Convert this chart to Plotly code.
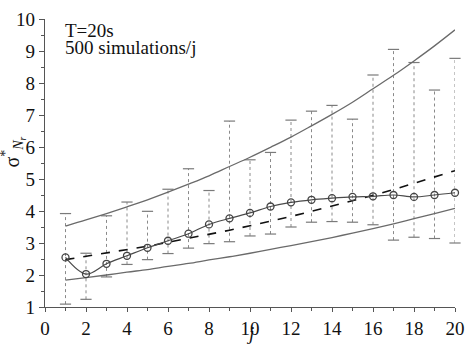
import plotly.graph_objects as go

# Number of simulated jumps j
j = list(range(1, 21))

# Mean of sigma* over 500 simulations per j
mean_sigma = [2.55, 2.03, 2.35, 2.60, 2.85, 3.07, 3.29, 3.58, 3.77, 3.94,
              4.14, 4.27, 4.35, 4.40, 4.44, 4.46, 4.50, 4.44, 4.50, 4.57]
# Spread of the simulations (max / min)
sigma_max = [3.92, 2.68, 3.85, 4.28, 3.99, 4.68, 5.32, 4.64, 6.81, 5.60,
             5.83, 6.84, 7.12, 7.30, 6.87, 8.25, 9.05, 8.64, 7.78, 8.77]
sigma_min = [1.09, 1.24, 1.94, 2.33, 2.48, 2.67, 2.84, 2.98, 3.04, 3.22,
             3.28, 3.50, 3.65, 3.67, 3.65, 3.57, 3.09, 3.18, 3.14, 3.00]
# Theoretical envelope and reference curve
upper_bound = [3.53, 3.72, 3.92, 4.13, 4.35, 4.59, 4.84, 5.10, 5.39, 5.68,
               5.99, 6.31, 6.66, 7.02, 7.40, 7.82, 8.24, 8.69, 9.16, 9.66]
lower_bound = [1.84, 1.92, 2.00, 2.09, 2.17, 2.27, 2.36, 2.47, 2.57, 2.68,
               2.80, 2.92, 3.04, 3.17, 3.31, 3.45, 3.60, 3.76, 3.92, 4.08]
reference = [2.48, 2.58, 2.68, 2.79, 2.90, 3.02, 3.14, 3.27, 3.40, 3.54,
             3.68, 3.83, 3.99, 4.15, 4.31, 4.49, 4.67, 4.86, 5.05, 5.26]

x_ticks = list(range(0, 21, 2))
y_ticks = list(range(1, 11))

FONT = "Liberation Serif, Times New Roman, serif"
AXIS_COLOR = "#555555"
TICK_FONT = dict(family=FONT, size=19, color="#111111")

fig = go.Figure()

# dotted vertical spread bars
bar_x, bar_y = [], []
for xi, lo, hi in zip(j, sigma_min, sigma_max):
    bar_x += [xi, xi, None]
    bar_y += [lo, hi, None]
fig.add_trace(go.Scatter(x=bar_x, y=bar_y, mode="lines",
                         line=dict(color="#8a8a8a", width=1, dash="dot"),
                         hoverinfo="skip", cliponaxis=False))
# caps at both ends
fig.add_trace(go.Scatter(x=j + j, y=sigma_max + sigma_min, mode="markers",
                         marker=dict(symbol="line-ew-open", size=8,
                                     color="#7a7a7a",
                                     line=dict(color="#7a7a7a", width=1.2)),
                         cliponaxis=False))

# envelope curves
fig.add_trace(go.Scatter(x=j, y=upper_bound, mode="lines",
                         line=dict(color="#6a6a6a", width=1.3, shape="spline")))
fig.add_trace(go.Scatter(x=j, y=lower_bound, mode="lines",
                         line=dict(color="#6a6a6a", width=1.3, shape="spline")))
# dashed reference curve
fig.add_trace(go.Scatter(x=j, y=reference, mode="lines",
                         line=dict(color="#111111", width=1.6, dash="dash")))
# simulated mean
fig.add_trace(go.Scatter(x=j, y=mean_sigma, mode="lines+markers",
                         line=dict(color="#4a4a4a", width=1.2, shape="spline"),
                         marker=dict(symbol="circle-open", size=7,
                                     color="#444444",
                                     line=dict(color="#444444", width=1.3)),
                         cliponaxis=False))

fig.update_layout(
    width=474, height=348,
    margin=dict(l=45, r=9, t=11, b=41),
    plot_bgcolor="white", paper_bgcolor="white",
    showlegend=False,
    font=dict(family=FONT, size=19, color="#111111"),
    xaxis=dict(range=[0, 20], tickvals=x_ticks, showgrid=False, zeroline=False,
               showline=True, linecolor=AXIS_COLOR, linewidth=1.2,
               ticks="outside", ticklen=4, tickcolor=AXIS_COLOR,
               tickfont=TICK_FONT, ticklabeloverflow="allow",
               minor=dict(dtick=1, tick0=0, ticks="outside", ticklen=3,
                          tickcolor=AXIS_COLOR)),
    yaxis=dict(range=[1, 10], tickvals=y_ticks, showgrid=False, zeroline=False,
               showline=True, linecolor=AXIS_COLOR, linewidth=1.2,
               ticks="outside", ticklen=5, tickcolor=AXIS_COLOR,
               tickfont=TICK_FONT, ticklabeloverflow="allow",
               minor=dict(dtick=0.5, tick0=0, ticks="outside", ticklen=3,
                          tickcolor=AXIS_COLOR)),
    annotations=[
        dict(text="T=20s", xref="x", yref="paper", x=0.86, y=1.005,
             xanchor="left", yanchor="top", showarrow=False,
             font=dict(family=FONT, size=19)),
        dict(text="500 simulations/j", xref="x", yref="paper", x=0.86, y=0.945,
             xanchor="left", yanchor="top", showarrow=False,
             font=dict(family=FONT, size=19)),
        dict(text="σ<sup>*</sup><sub><i>N<sub>r</sub></i></sub>",
             xref="paper", yref="y", x=-0.077, y=5.84,
             xanchor="center", yanchor="middle", textangle=-90,
             showarrow=False, font=dict(family=FONT, size=20)),
        dict(text="<i>j</i>", xref="x", yref="paper", x=10, y=-0.1368,
             xanchor="center", yanchor="bottom", showarrow=False,
             font=dict(family=FONT, size=19)),
    ],
)

fig.write_html("out.html")
